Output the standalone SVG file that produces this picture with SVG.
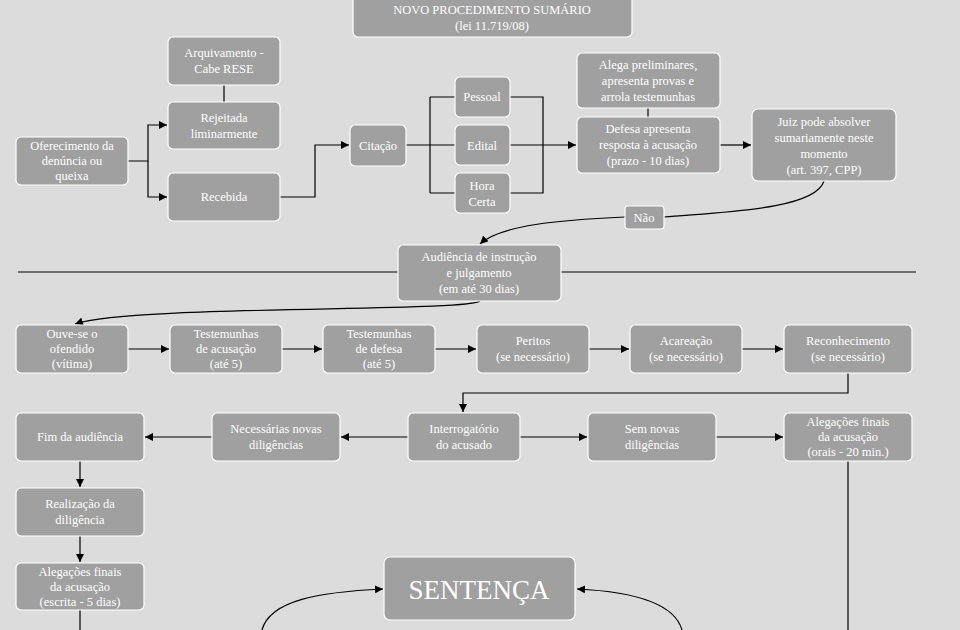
<svg xmlns="http://www.w3.org/2000/svg" width="960" height="630" viewBox="0 0 960 630">
<defs>
<marker id="a" viewBox="0 0 10 10" refX="10" refY="5" markerWidth="8" markerHeight="8" orient="auto" markerUnits="userSpaceOnUse"><path d="M0,0L10,5L0,10z" fill="#000"/></marker>
<style>
.n rect{fill:#a0a0a0;stroke:#fff;stroke-width:1.2}
.n text{fill:#fff;font-family:"Liberation Serif",serif;font-size:12.5px;text-anchor:middle}
.c path{fill:none;stroke:#000;stroke-width:1.2}
.c .ar{marker-end:url(#a)}
</style>
</defs>
<rect width="960" height="630" fill="#dcdcdc"/>
<g class="c">
<path d="M18,272H916"/>
<path d="M224,85V102"/>
<path d="M648,108V117"/>
<path d="M128,161H148V125H167" class="ar"/>
<path d="M148,161V197H167" class="ar"/>
<path d="M280,197H315V145H349" class="ar"/>
<path d="M406,145H455M430,97V193M430,97H455M430,193H455"/>
<path d="M510,97H543V193H510"/>
<path d="M510,145H576" class="ar"/>
<path d="M720,145H751" class="ar"/>
<path d="M824,181C815,210 720,212 664,217"/>
<path d="M625,217C560,220 500,225 480,244" class="ar"/>
<path d="M480,301C470,312 130,305 75,324" class="ar"/>
<path d="M128,349H169" class="ar"/>
<path d="M282,349H322" class="ar"/>
<path d="M435,349H476" class="ar"/>
<path d="M589,349H629" class="ar"/>
<path d="M742,349H783" class="ar"/>
<path d="M848,373V393H463V412" class="ar"/>
<path d="M408,437H341" class="ar"/>
<path d="M212,437H145" class="ar"/>
<path d="M520,437H587" class="ar"/>
<path d="M716,437H783" class="ar"/>
<path d="M848,461V630"/>
<path d="M80,461V487" class="ar"/>
<path d="M80,536V562" class="ar"/>
<path d="M80,610V630"/>
<path d="M262,630C270,600 320,592 383,589" class="ar"/>
<path d="M682,630C675,605 640,592 577,589" class="ar"/>
</g>
<g class="n" id="titulo"><rect x="353" y="-6" width="279" height="43" rx="5"/><text x="492" y="14">NOVO PROCEDIMENTO  SUMÁRIO</text><text x="492" y="30">(lei 11.719/08)</text></g>
<g class="n" id="arquivamento"><rect x="168" y="37" width="112" height="48" rx="5"/><text x="224" y="57">Arquivamento -</text><text x="224" y="73">Cabe RESE</text></g>
<g class="n" id="rejeitada"><rect x="168" y="102" width="112" height="47" rx="5"/><text x="224" y="122">Rejeitada</text><text x="224" y="138">liminarmente</text></g>
<g class="n" id="oferecimento"><rect x="16" y="137" width="112" height="48" rx="5"/><text x="72" y="150">Oferecimento da</text><text x="72" y="165">denúncia ou</text><text x="72" y="180">queixa</text></g>
<g class="n" id="recebida"><rect x="168" y="173" width="112" height="48" rx="5"/><text x="224" y="201">Recebida</text></g>
<g class="n" id="citacao"><rect x="350" y="125" width="56" height="41" rx="5"/><text x="378" y="150">Citação</text></g>
<g class="n" id="pessoal"><rect x="455" y="77" width="55" height="40" rx="5"/><text x="482" y="101">Pessoal</text></g>
<g class="n" id="edital"><rect x="455" y="125" width="55" height="40" rx="5"/><text x="482" y="150">Edital</text></g>
<g class="n" id="hora"><rect x="455" y="173" width="55" height="40" rx="5"/><text x="482" y="190">Hora</text><text x="482" y="206">Certa</text></g>
<g class="n" id="alega"><rect x="577" y="53" width="143" height="55" rx="5"/><text x="648" y="69">Alega preliminares,</text><text x="648" y="85">apresenta provas e</text><text x="648" y="101">arrola testemunhas</text></g>
<g class="n" id="defesa"><rect x="577" y="117" width="143" height="56" rx="5"/><text x="648" y="133">Defesa apresenta</text><text x="648" y="149">resposta à acusação</text><text x="648" y="165">(prazo - 10 dias)</text></g>
<g class="n" id="juiz"><rect x="752" y="109" width="144" height="72" rx="6"/><text x="824" y="126">Juiz pode absolver</text><text x="824" y="142">sumariamente neste</text><text x="824" y="158">momento</text><text x="824" y="174">(art. 397, CPP)</text></g>
<g class="n" id="nao"><rect x="625" y="206" width="39" height="23" rx="3"/><text x="644" y="222">Não</text></g>
<g class="n" id="audiencia"><rect x="398" y="245" width="163" height="56" rx="5"/><text x="479" y="261">Audiência de instrução</text><text x="479" y="277">e julgamento</text><text x="479" y="293">(em até 30 dias)</text></g>
<g class="n" id="ouve"><rect x="16" y="325" width="112" height="48" rx="5"/><text x="72" y="338">Ouve-se o</text><text x="72" y="353">ofendido</text><text x="72" y="368">(vítima)</text></g>
<g class="n" id="testacus"><rect x="170" y="325" width="112" height="48" rx="5"/><text x="226" y="338">Testemunhas</text><text x="226" y="353">de acusação</text><text x="226" y="368">(até 5)</text></g>
<g class="n" id="testdef"><rect x="323" y="325" width="112" height="48" rx="5"/><text x="379" y="338">Testemunhas</text><text x="379" y="353">de defesa</text><text x="379" y="368">(até 5)</text></g>
<g class="n" id="peritos"><rect x="477" y="325" width="112" height="48" rx="5"/><text x="533" y="345">Peritos</text><text x="533" y="361">(se necessário)</text></g>
<g class="n" id="acareacao"><rect x="630" y="325" width="112" height="48" rx="5"/><text x="686" y="345">Acareação</text><text x="686" y="361">(se necessário)</text></g>
<g class="n" id="reconhecimento"><rect x="784" y="325" width="128" height="48" rx="5"/><text x="848" y="345">Reconhecimento</text><text x="848" y="361">(se necessário)</text></g>
<g class="n" id="fim"><rect x="16" y="413" width="128" height="48" rx="5"/><text x="80" y="441">Fim da audiência</text></g>
<g class="n" id="necessarias"><rect x="212" y="413" width="128" height="48" rx="5"/><text x="276" y="433">Necessárias novas</text><text x="276" y="449">diligências</text></g>
<g class="n" id="interrogatorio"><rect x="408" y="413" width="112" height="48" rx="5"/><text x="464" y="433">Interrogatório</text><text x="464" y="449">do acusado</text></g>
<g class="n" id="semnovas"><rect x="588" y="413" width="128" height="48" rx="5"/><text x="652" y="433">Sem novas</text><text x="652" y="449">diligências</text></g>
<g class="n" id="alegoral"><rect x="784" y="413" width="128" height="48" rx="5"/><text x="848" y="426">Alegações finais</text><text x="848" y="441">da acusação</text><text x="848" y="456">(orais - 20 min.)</text></g>
<g class="n" id="realizacao"><rect x="16" y="488" width="128" height="48" rx="5"/><text x="80" y="508">Realização da</text><text x="80" y="524">diligência</text></g>
<g class="n" id="alegescrita"><rect x="16" y="563" width="128" height="47" rx="5"/><text x="80" y="576">Alegações finais</text><text x="80" y="591">da acusação</text><text x="80" y="606">(escrita - 5 dias)</text></g>
<g class="n" id="sentenca"><rect x="384" y="557" width="191" height="63" rx="6"/><text x="479" y="599" style="font-size:27px">SENTENÇA</text></g>
</svg>
